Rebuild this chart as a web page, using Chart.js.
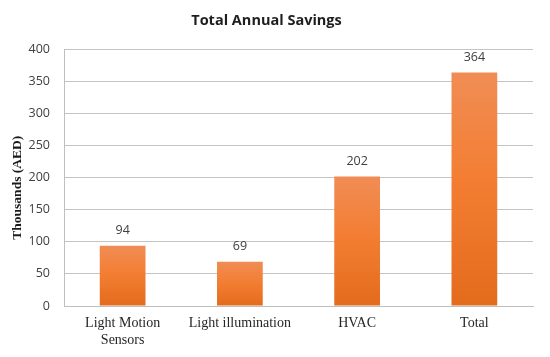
<!DOCTYPE html>
<html>
<head>
<meta charset="utf-8">
<script src="https://cdn.jsdelivr.net/npm/chart.js@4/dist/chart.umd.min.js"></script>
<style>
html,body{margin:0;padding:0;background:#fff;}
canvas{display:block;}
</style>
</head>
<body>
<canvas id="c" width="550" height="357"></canvas>
<script>
const categories = [['Light Motion', 'Sensors'], 'Light illumination', 'HVAC', 'Total'];
const savings = [94, 69, 202, 364];
const yTicks = [0, 50, 100, 150, 200, 250, 300, 350, 400];
const chartTitle = 'Total Annual Savings';
const yAxisTitle = 'Thousands (AED)';

const barGradient = (ctx) => {
  const chart = ctx.chart;
  const y = chart.scales && chart.scales.y;
  if (!chart.chartArea || !y || ctx.type !== 'data') return '#f07c30';
  const top = y.getPixelForValue(ctx.raw);
  const base = y.getPixelForValue(0);
  const g = chart.ctx.createLinearGradient(0, top, 0, base);
  g.addColorStop(0, '#f08d55');
  g.addColorStop(0.45, '#f37e33');
  g.addColorStop(1, '#e36b1c');
  return g;
};

const valueLabels = {
  id: 'valueLabels',
  afterDatasetsDraw(chart) {
    const ctx = chart.ctx;
    const meta = chart.getDatasetMeta(0);
    ctx.save();
    ctx.font = '12.5px "Open Sans"';
    ctx.fillStyle = '#404040';
    ctx.textAlign = 'center';
    ctx.textBaseline = 'middle';
    meta.data.forEach((el, i) => {
      ctx.fillText(String(chart.data.datasets[0].data[i]), el.x, el.y - 15);
    });
    ctx.restore();
  }
};

const yTitle = {
  id: 'yTitle',
  afterDraw(chart) {
    const ctx = chart.ctx;
    const area = chart.chartArea;
    ctx.save();
    ctx.translate(18, (area.top + area.bottom) / 2 + 10);
    ctx.rotate(-Math.PI / 2);
    ctx.font = 'bold 13.5px "Liberation Serif"';
    ctx.fillStyle = '#1a1a1a';
    ctx.textAlign = 'center';
    ctx.textBaseline = 'middle';
    ctx.fillText(yAxisTitle, 0, 0);
    ctx.restore();
  }
};

new Chart(document.getElementById('c'), {
  type: 'bar',
  data: {
    labels: categories,
    datasets: [{
      data: savings,
      backgroundColor: barGradient,
      borderWidth: 0,
      barPercentage: 0.39,
      categoryPercentage: 1
    }]
  },
  options: {
    responsive: false,
    animation: false,
    devicePixelRatio: 1,
    layout: { padding: { left: 0, right: 17, top: 0, bottom: 0 } },
    plugins: {
      legend: { display: false },
      tooltip: { enabled: false },
      title: {
        display: true,
        text: chartTitle,
        color: '#1e1e1e',
        font: { family: '"Open Sans"', size: 14.5, weight: 'bold', lineHeight: 1.2 },
        padding: { top: 12, bottom: 20 }
      }
    },
    scales: {
      x: {
        grid: { display: false, drawTicks: false },
        border: { display: true, color: '#bfbfbf', width: 1 },
        ticks: {
          color: '#262626',
          font: { family: '"Liberation Serif"', size: 14, lineHeight: 1.2 },
          padding: 9,
          maxRotation: 0,
          autoSkip: false
        },
        afterFit(scale) { scale.height = 51; }
      },
      y: {
        min: 0,
        max: 400,
        afterBuildTicks(scale) { scale.ticks = yTicks.map(v => ({ value: v })); },
        grid: { color: '#c4c4c4', lineWidth: 1, drawTicks: false },
        border: { display: true, color: '#bfbfbf', width: 1 },
        ticks: {
          color: '#404040',
          font: { family: '"Open Sans"', size: 12.5 },
          padding: 14
        },
        afterFit(scale) { scale.width = 64; }
      }
    }
  },
  plugins: [valueLabels, yTitle]
});
</script>
</body>
</html>
